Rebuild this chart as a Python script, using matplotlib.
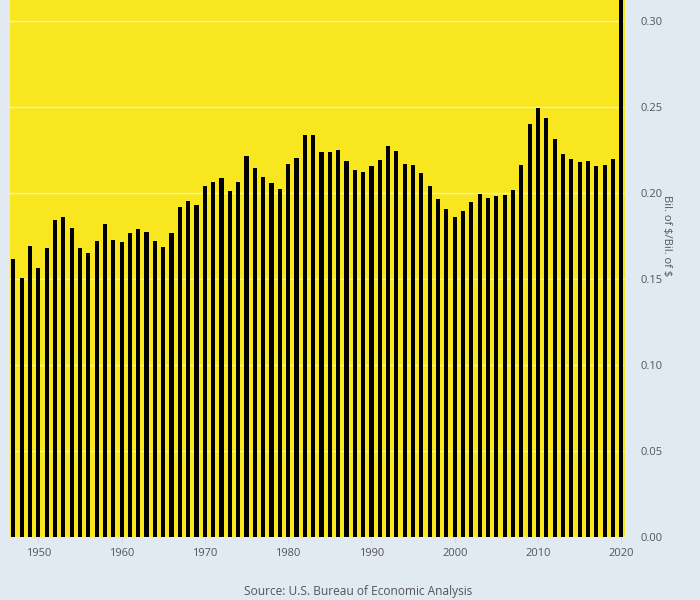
import numpy as np
import matplotlib
matplotlib.use("Agg")
import matplotlib.pyplot as plt

plt.rcParams['font.family'] = ['Open Sans', 'DejaVu Sans']

years = list(range(1947, 2021))
values = [
    0.1615, 0.1506, 0.1696, 0.1563, 0.1679, 0.1846, 0.1863, 0.1800, 0.1679, 0.1650,
    0.1725, 0.1823, 0.1731, 0.1719, 0.1771, 0.1794, 0.1777, 0.1725, 0.1690, 0.1771,
    0.1921, 0.1956, 0.1933, 0.2042, 0.2065, 0.2088, 0.2013, 0.2065, 0.2215, 0.2146,
    0.2094, 0.2060, 0.2025, 0.2169, 0.2204, 0.2342, 0.2337, 0.2238, 0.2238, 0.2250,
    0.2187, 0.2135, 0.2123, 0.2158, 0.2192, 0.2273, 0.2244, 0.2169, 0.2163, 0.2119,
    0.2043, 0.1969, 0.1906, 0.1860, 0.1900, 0.1952, 0.1998, 0.1975, 0.1987, 0.1992,
    0.2021, 0.2165, 0.2402, 0.2494, 0.2437, 0.2315, 0.2229, 0.2200, 0.2183, 0.2188,
    0.2160, 0.2165, 0.2200, 0.3400,
]
y_ticks = [0.00, 0.05, 0.10, 0.15, 0.20, 0.25, 0.30]
x_ticks = list(range(1950, 2021, 10))

bg = '#e1e9f1'
yellow = '#f8e71e'
txt = '#555555'

fig = plt.figure(figsize=(7, 6), dpi=100, facecolor=bg)
ax = fig.add_axes([10/700, 63/600, 615/700, 537/600])
ax.set_facecolor(yellow)

ax.bar(years, values, width=0.5, color='black', zorder=3)

ax.set_xlim(1946.6, 2020.45)
ax.set_ylim(0, 0.3125)

ax.yaxis.tick_right()
ax.set_yticks(y_ticks)
ax.set_yticklabels([f'{v:.2f}' for v in y_ticks])
ax.set_xticks(x_ticks)
ax.tick_params(axis='y', length=0, pad=11, labelsize=8, labelcolor=txt)
ax.tick_params(axis='x', length=4, color='#d0d8e4', pad=4, labelsize=8, labelcolor=txt)
ax.grid(axis='y', color='#f3efb8', linewidth=1, zorder=0)
ax.grid(axis='x', visible=False)
for s in ax.spines.values():
    s.set_visible(False)

ax.text(1.068, 0.562, r'Bil. of \$/Bil. of \$', transform=ax.transAxes,
        rotation=270, ha='center', va='center', fontsize=8, color=txt)

fig.text(358/700, 1 - 592/600, 'Source: U.S. Bureau of Economic Analysis',
         ha='center', va='center', fontsize=8.6, color=txt)

fig.savefig('out.png', dpi=100, facecolor=bg)
